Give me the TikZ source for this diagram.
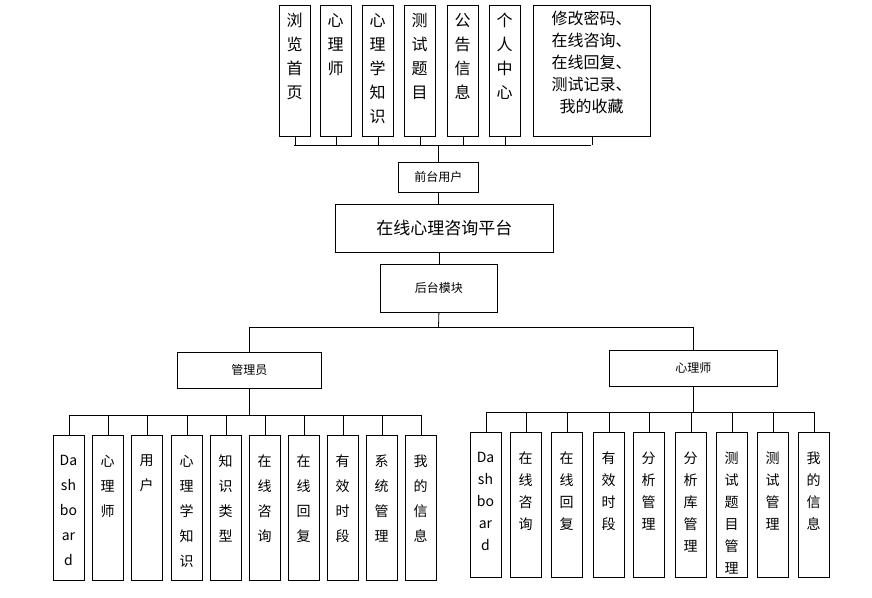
\documentclass[tikz,border=0pt]{standalone}
\usepackage{fontspec}
\newfontfamily\cjk{Noto Sans CJK SC}
\begin{document}
\begin{tikzpicture}[x=1pt,y=-1pt,
 bx/.style={draw,line width=0.8pt,inner sep=0pt,anchor=north west,align=center,font=\cjk\fontsize{15}{25}\selectfont},
 ln/.style={line width=0.8pt}]
\useasboundingbox (0,0) rectangle (872,597);
\newcommand\vb[6]{\node[bx,minimum width=#3,minimum height=#4] (#1) at (#2) {#5};}
% top
\foreach \n/\x/\t in {t1/279/浏\\览\\首\\页, t2/320/心\\理\\师, t3/362/心\\理\\学\\知\\识, t4/404/测\\试\\题\\目, t5/447/公\\告\\信\\息, t6/489/个\\人\\中\\心}{
 \node[bx,minimum width=31,minimum height=131,font=\cjk\fontsize{16}{24}\selectfont,anchor=north west] (\n) at (\x,5) {};
 \node[anchor=north,align=center,font=\cjk\fontsize{16}{24}\selectfont,inner sep=0pt] at (\x+15.5,13) {\t};
}
\node[bx,minimum width=117,minimum height=131,font=\cjk\fontsize{16}{24}\selectfont] (t7) at (533,5) {};
\node[anchor=north,align=center,font=\cjk\fontsize{16}{22}\selectfont,inner sep=0pt] at (591.5,11) {修改密码、\\在线咨询、\\在线回复、\\测试记录、\\我的收藏};
\coordinate (hl) at (294,145); \coordinate (hr) at (591,145);
\draw[ln] (hl)--(hr);
\foreach \n in {t1,t2,t3,t4,t5,t6,t7} \draw[ln] (\n.south)--(\n.south|-hl);
\node[bx,minimum width=80,minimum height=30,font=\cjk\fontsize{12}{14}\selectfont] (fu) at (398,162) {前台用户};
\draw[ln] (fu.north|-hl)--(fu.north);
\node[bx,minimum width=218,minimum height=48,font=\cjk\fontsize{17}{20}\selectfont] (pl) at (335,204) {在线心理咨询平台};
\draw[ln] (fu.south)--(fu.south|-pl.north);
\node[bx,minimum width=117,minimum height=48,font=\cjk\fontsize{12}{14}\selectfont] (bk) at (380,264) {后台模块};
\draw[ln] (bk.north|-pl.south)--(bk.north);
\coordinate (m) at (438.5,327);
\draw[ln] (bk.south)--(m);
\node[bx,minimum width=144,minimum height=36,font=\cjk\fontsize{12}{14}\selectfont] (ad) at (177,352) {管理员};
\node[bx,minimum width=168,minimum height=36,font=\cjk\fontsize{12}{14}\selectfont] (ps) at (609,350) {心理师};
\draw[ln] (ad.north|-m)--(ps.north|-m);
\draw[ln] (ad.north|-m)--(ad.north);
\draw[ln] (ps.north|-m)--(ps.north);
% admin group
\coordinate (al) at (70,415);
\draw[ln] (ad.south)--(ad.south|-al);
\foreach \i/\x/\t in {1/53/Da\\sh\\bo\\ar\\d, 2/92/心\\理\\师, 3/131/用\\户, 4/171/心\\理\\学\\知\\识, 5/210/知\\识\\类\\型, 6/249/在\\线\\咨\\询, 7/288/在\\线\\回\\复, 8/327/有\\效\\时\\段, 9/366/系\\统\\管\\理, 10/405/我\\的\\信\\息}{
 \node[bx,minimum width=31,minimum height=145] (a\i) at (\x,435) {};
 \node[anchor=north,align=center,font=\cjk\fontsize{14}{25}\selectfont,inner sep=0pt] at (\x+15.5,455) {\t};
 \draw[ln] (a\i.north)--(a\i.north|-al);
}
\draw[ln] (a1.north|-al)--(a10.north|-al);
% psych group
\coordinate (pl2) at (486,412);
\draw[ln] (ps.south)--(ps.south|-pl2);
\foreach \i/\x/\t in {1/470/Da\\sh\\bo\\ar\\d, 2/510/在\\线\\咨\\询, 3/551/在\\线\\回\\复, 4/593/有\\效\\时\\段, 5/633/分\\析\\管\\理, 6/675/分\\析\\库\\管\\理, 7/716/测\\试\\题\\目\\管\\理, 8/757/测\\试\\管\\理, 9/798/我\\的\\信\\息}{
 \node[bx,minimum width=31,minimum height=145] (p\i) at (\x,432) {};
 \node[anchor=north,align=center,font=\cjk\fontsize{14}{22}\selectfont,inner sep=0pt] at (\x+15.5,452) {\t};
 \draw[ln] (p\i.north)--(p\i.north|-pl2);
}
\draw[ln] (p1.north|-pl2)--(p9.north|-pl2);
\end{tikzpicture}
\end{document}
